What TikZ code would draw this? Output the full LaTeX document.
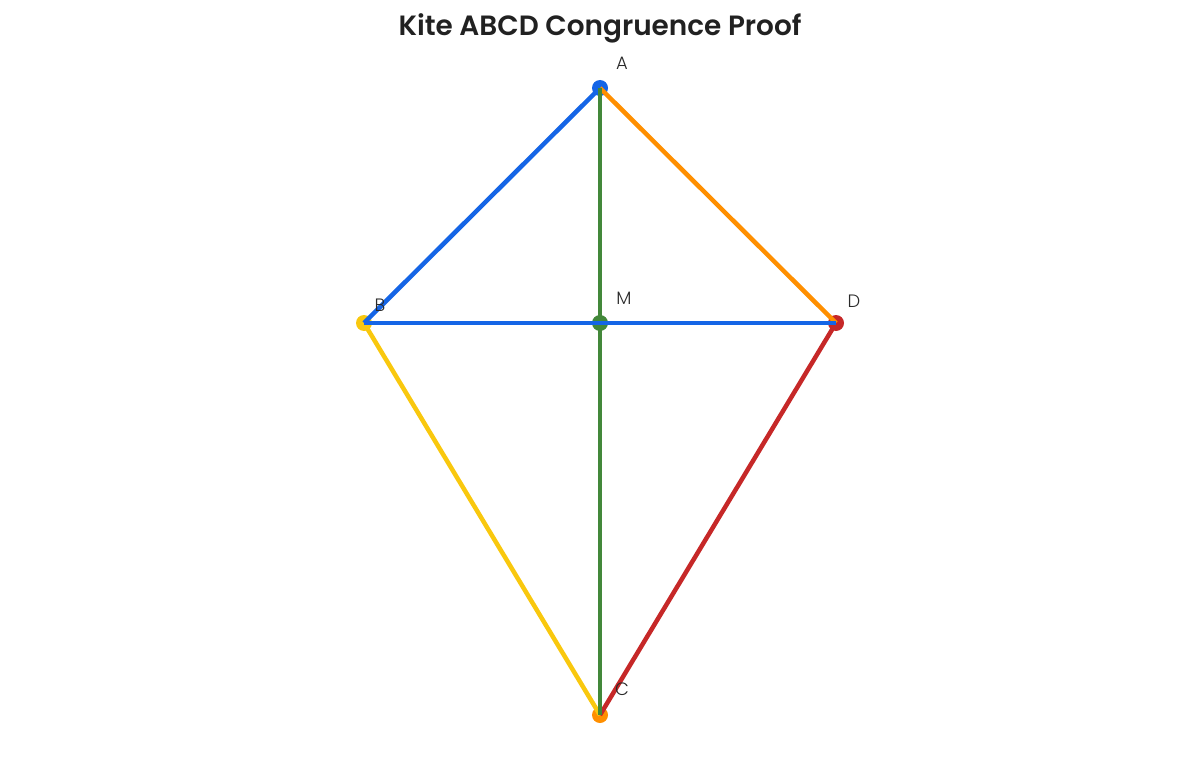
\documentclass[tikz,border=0pt]{standalone}
\usepackage{fontspec}
\setmainfont{Poppins}
\newfontfamily\titlefont{Poppins}[UprightFont={* SemiBold}]
\newfontfamily\labelfont{Poppins}[UprightFont={* Light}]
\definecolor{cblue}{HTML}{1565E6}
\definecolor{corange}{HTML}{FF8F00}
\definecolor{cyellow}{HTML}{F9C80E}
\definecolor{cred}{HTML}{C62828}
\definecolor{cgreen}{HTML}{43883A}
\definecolor{ctext}{HTML}{2A2A2A}
\begin{document}
\begin{tikzpicture}[x=1bp,y=-1bp,
  dot/.style={circle,inner sep=0pt,minimum size=16bp},
  edge/.style={line width=4.5bp},
  lbl/.style={font=\labelfont\fontsize{18}{20}\selectfont,text=ctext,inner sep=0pt}]
\useasboundingbox (0,0) rectangle (1200,763);
\node[font=\titlefont\fontsize{28}{32}\selectfont,text=black!87] (title) at (600,28) {Kite ABCD Congruence Proof};
\node[dot,fill=cblue] (A) at (600,88) {};
\node[dot,fill=cyellow] (B) at (364,323) {};
\node[dot,fill=cgreen] (M) at (600,323) {};
\node[dot,fill=cred] (D) at (836,323) {};
\node[dot,fill=corange] (C) at (600,715) {};
\draw[edge,cblue] (A.center) -- (B.center);
\draw[edge,corange] (A.center) -- (D.center);
\draw[edge,cyellow] (B.center) -- (C.center);
\draw[edge,cred] (D.center) -- (C.center);
\draw[edge,cgreen] (A.center) -- (C.center);
\draw[edge,cblue] (B.center) -- (D.center);
\node[lbl] (lA) at (622,63) {A};
\node[lbl] (lB) at (380,305) {B};
\node[lbl] (lM) at (624,298) {M};
\node[lbl] (lD) at (854,301) {D};
\node[lbl] (lC) at (622,689) {C};
\end{tikzpicture}
\end{document}
